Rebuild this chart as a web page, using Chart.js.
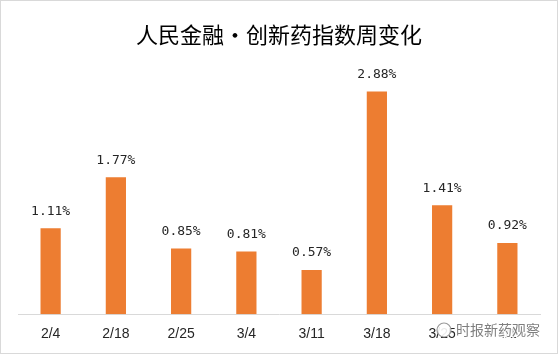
<!DOCTYPE html>
<html><head><meta charset="utf-8">
<script src="https://cdn.jsdelivr.net/npm/chart.js@4"></script>
<style>
html,body{margin:0;padding:0;background:#fff;}
#wrap{position:relative;width:558px;height:354px;}
#c{position:absolute;left:0;top:0;}
#frame{position:absolute;left:0;top:0;width:558px;height:354px;box-sizing:border-box;border:1px solid #d9d9d9;pointer-events:none;}
</style></head>
<body>
<div id="wrap"><canvas id="c" width="558" height="354"></canvas><div id="frame"></div></div>
<script>
const titleText = '人民金融·创新药指数周变化';
const categories = ['2/4', '2/18', '2/25', '3/4', '3/11', '3/18', '3/25', '4/1'];
const weeklyChange = [1.11, 1.77, 0.85, 0.81, 0.57, 2.88, 1.41, 0.92];
const watermarkText = '时报新药观察';

const valueLabels = {
  id: 'valueLabels',
  afterDatasetsDraw(chart) {
    const ctx = chart.ctx;
    const meta = chart.getDatasetMeta(0);
    ctx.save();
    ctx.font = '13px "DejaVu Sans Mono", monospace';
    ctx.fillStyle = '#262626';
    ctx.textAlign = 'center';
    ctx.textBaseline = 'middle';
    meta.data.forEach((bar, i) => {
      ctx.fillText(weeklyChange[i].toFixed(2) + '%', bar.x, bar.y - 17);
    });
    ctx.restore();
  }
};

const watermark = {
  id: 'watermark',
  afterDraw(chart) {
    const ctx = chart.ctx;
    ctx.save();
    const x = chart.chartArea.right, y = 330;
    ctx.font = '14px "Noto Sans CJK SC", sans-serif';
    ctx.textAlign = 'right';
    ctx.textBaseline = 'middle';
    ctx.lineWidth = 3;
    ctx.strokeStyle = 'rgba(255,255,255,0.9)';
    ctx.strokeText(watermarkText, x, y);
    ctx.fillStyle = '#7f7f7f';
    ctx.fillText(watermarkText, x, y);
    const w = ctx.measureText(watermarkText).width;
    ctx.beginPath();
    ctx.arc(x - w - 12, y, 7, 0, Math.PI * 2);
    ctx.fillStyle = 'rgba(255,255,255,0.9)';
    ctx.fill();
    ctx.lineWidth = 1.2;
    ctx.strokeStyle = '#9a9a9a';
    ctx.stroke();
    ctx.restore();
  }
};

new Chart(document.getElementById('c'), {
  type: 'bar',
  data: {
    labels: categories,
    datasets: [{
      data: weeklyChange,
      backgroundColor: '#ED7D31',
      borderWidth: 0,
      barPercentage: 0.31,
      categoryPercentage: 1.0
    }]
  },
  options: {
    responsive: false,
    animation: false,
    devicePixelRatio: 1,
    layout: { padding: { left: 18, right: 18, top: 0, bottom: -1 } },
    plugins: {
      legend: { display: false },
      tooltip: { enabled: false },
      title: {
        display: true,
        text: titleText,
        color: '#000',
        font: { family: '"Noto Sans CJK SC", sans-serif', size: 22, weight: 'normal' },
        padding: { top: 21, bottom: 0 }
      }
    },
    scales: {
      x: {
        grid: { display: false, drawTicks: false },
        border: { display: true, color: '#d9d9d9', width: 1 },
        ticks: {
          color: '#262626',
          padding: 12,
          font: { family: '"Liberation Sans", Arial, sans-serif', size: 14 }
        }
      },
      y: {
        display: false,
        min: 0,
        max: 3.45
      }
    }
  },
  plugins: [valueLabels, watermark]
});
</script>
</body></html>
